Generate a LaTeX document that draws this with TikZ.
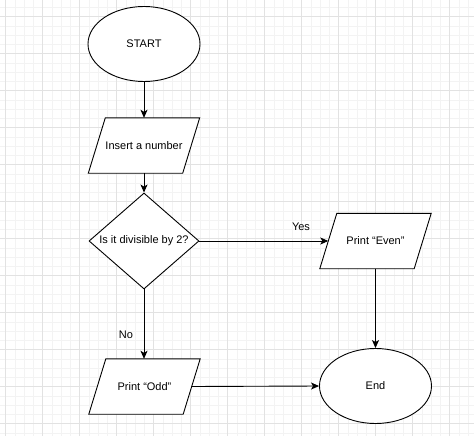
\documentclass[tikz,border=0pt]{standalone}
\usepackage{fontspec}
\setmainfont{Liberation Sans}
\usetikzlibrary{shapes.geometric,arrows.meta}
\definecolor{minorgrid}{HTML}{F3F3F3}
\definecolor{majorgrid}{HTML}{E2E2E2}
\pgfdeclarelayer{gridlayer}
\pgfdeclarelayer{shapelayer}
\pgfsetlayers{gridlayer,shapelayer,main}
\newcommand\parabox[1]{%
  \begin{pgfonlayer}{shapelayer}
  \draw[base] ([xshift=-8.5pt]#1.south west) -- ([xshift=-8.5pt]#1.south east)
     -- ([xshift=8.5pt]#1.north east) -- ([xshift=8.5pt]#1.north west) -- cycle;
  \end{pgfonlayer}}
\begin{document}
\begin{tikzpicture}[x=1pt,y=-1pt,
  every node/.style={font=\fontsize{11}{13}\selectfont},
  base/.style={draw=black,line width=0.9pt,inner sep=0pt,fill=white},
  term/.style={base,ellipse,minimum width=112pt,minimum height=75pt},
  io/.style={rectangle,inner sep=0pt,minimum width=94pt,minimum height=55pt},
  decide/.style={base,diamond,aspect=1.15,minimum width=110pt,minimum height=96pt},
  flow/.style={line width=0.9pt,-{Stealth[length=8pt,width=7pt,inset=2pt]}},
  lbl/.style={inner sep=1pt}
]
\useasboundingbox (0,0) rectangle (474,436);
\begin{pgfonlayer}{gridlayer}
\fill[white] (0,0) rectangle (474,436);
\begin{scope}
\clip (0,0) rectangle (474,436);
\foreach \i in {0,...,55} {
  \draw[minorgrid,line width=0.5pt] ({-31.3+9.25*\i},0) -- ({-31.3+9.25*\i},436);
  \draw[minorgrid,line width=0.5pt] (0,{-20.3+9.25*\i}) -- (474,{-20.3+9.25*\i});
}
\foreach \i in {0,...,13} {
  \draw[majorgrid,line width=0.6pt] ({5.7+37*\i},0) -- ({5.7+37*\i},436);
  \draw[majorgrid,line width=0.6pt] (0,{16.7+37*\i}) -- (474,{16.7+37*\i});
}
\end{scope}
\end{pgfonlayer}

\node[term] (start) at (144,44) {START};
\node[io] (insert) at (144,145.5) {Insert a number};
\node[decide] (dec) at (144,241) {Is it divisible by 2?};
\node[io] (even) at (375.5,241) {Print “Even”};
\node[io] (odd) at (144.5,386.5) {Print “Odd”};
\node[term] (end) at (375.5,386) {End};
\parabox{insert}
\parabox{even}
\parabox{odd}

\draw[flow] (start) -- (insert);
\draw[flow] (insert) -- (dec);
\draw[flow] (dec.east) -- (even.west);
\draw[flow] (dec.south) -- (odd.north -| dec.south);
\draw[flow] (even.south) -- (end.north);
\draw[flow] (odd.east) -- (end.west);

\node[lbl] (yes) at (301,227) {Yes};
\node[lbl] (no) at (126,335) {No};
\end{tikzpicture}
\end{document}
